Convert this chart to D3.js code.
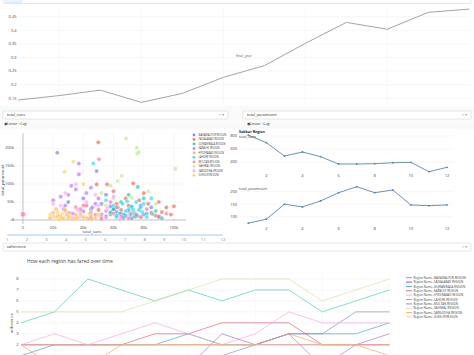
<!DOCTYPE html>
<html><head><meta charset="utf-8">
<script src="https://cdn.jsdelivr.net/npm/d3@7/dist/d3.min.js"></script>
<style>
html,body{margin:0;padding:0;background:#fff;overflow:hidden;}
svg{display:block;font-family:"Open Sans",sans-serif;}
</style></head><body>
<svg id="c" width="474" height="355"></svg>
<script>
// ---------- DATA ----------
const months = [1,2,3,4,5,6,7,8,9,10,11,12];
const topValues = [0.144,0.160,0.180,0.135,0.168,0.227,0.270,0.352,0.429,0.404,0.466,0.478];
const topTicks = [0.15,0.2,0.25,0.3,0.35,0.4,0.45];

const regions = ["BAHAWALPUR REGION","FAISALABAD REGION","GUJRANWALA REGION","KARACHI REGION","HYDERABAD REGION","LAHORE REGION","MULTAN REGION","SAHIWAL REGION","SARGODHA REGION","SUKKUR REGION"];
const scatterColors = ["#636efa","#EF553B","#00cc96","#ab63fa","#FFA15A","#19d3f3","#FF6692","#B6E880","#FF97FF","#FECB52"];
const scatterPoints = [
  [[22.7,187],[48.8,136],[40,60],[52,45],[60,30],[70,25],[78,40],[65,18],[45,20],[85,35],[55,70],[30,50],[75,10],[55,10],[62,22],[68,12],[72,5],[80,15],[90,8],[58,38]],
  [[49.9,216],[48.8,99],[55.8,99],[73,102],[60,80],[80,75],[90,50],[95,35],[68,60],[42,40],[58,15],[85,20],[100,38],[62,45],[77,55],[50,28],[65,28],[72,18],[78,8],[88,12],[92,22],[70,40],[83,45],[98,15],[66,5]],
  [[76,92],[65,50],[72,35],[58,20],[80,60],[88,25],[45,30],[62,8],[70,70],[67,15],[74,10],[82,18],[60,30],[77,28],[92,5]],
  [[37,157],[37,127],[30,70],[25,65],[35,85],[42,75],[20,55],[28,40],[50,60],[38,30],[45,90],[32,95],[33,18],[40,24],[46,35],[52,15],[27,30],[48,45]],
  [[20,20],[25,10],[30,5],[35,15],[28,25],[40,8],[22,30],[33,2],[45,12],[18,5],[38,22],[26,4],[29,14],[36,6],[43,3],[31,20],[23,12],[48,5],[52,9]],
  [[46.6,157],[60,40],[63,35],[66,45],[70,30],[72,38],[75,50],[68,25],[78,35],[80,45],[55,55],[85,60],[62,12],[74,20],[64,18],[67,8],[71,15],[73,28],[76,12],[79,22],[82,8],[86,16],[69,52],[58,22]],
  [[50.3,169],[0,16],[40,40],[55,25],[65,10],[48,15],[58,50],[35,35],[90,10],[70,5],[82,30],[45,5],[52,3],[60,18],[75,15],[95,18],[62,35]],
  [[68.2,227],[75.3,201],[75.7,185],[76.8,189],[101,142],[65.4,123],[62.7,108],[52,75],[58,95],[83,80],[55,40],[72,62],[88,45],[60,60]],
  [[35,99],[25,40],[30,20],[38,10],[42,50],[48,70],[55,5],[28,75],[60,65],[20,45],[33,5],[36,28],[45,22],[50,40],[64,2],[56,32]],
  [[33.3,162],[27.6,134],[40,100],[18,15],[22,8],[26,18],[30,12],[34,4],[38,16],[24,2],[42,6],[28,28],[20,10],[23,22],[31,8],[35,3],[44,18],[27,5],[46,2],[50,14]]
];
const scatterXTicks = [0,20,40,60,80,100];
const scatterXLabels = ["0","20k","40k","60k","80k","100k"];
const scatterYTicks = [0,50,100,150,200];
const scatterYLabels = ["0","50k","100k","150k","200k"];

const rightTopValues = [815,697,492,554,482,369,369,374,389,395,251,318];
const rightTopTicks = [400,600,800];
const rightBottomValues = [74,90,150,139,163,196,220,196,207,147,144,147];
const rightBottomTicks = [100,150,200];
const rightXTicks = [2,4,6,8,10,12];

const lineColors = ["#7d8ee0","#b0407a","#3fa9c4","#e0607e","#f3a6e6","#4cc9b4","#a073e0","#d7e3a2","#f3a25e","#f7caa2"];
const regionSeries = [
  [1,1,1,1,1,1,1,2,3,3,5,5],
  [2,2,2,2,2,2,2,2,2,2,2,2],
  [1,2,2,2,2,3,2,2,3,3,3,4],
  [2,2,2,2,3,3,4,4,4,2,2,2],
  [2,3,2,3,4,3,2,3,5,4,4,4],
  [4,5,8,7,6,7,6,7,7,5,6,7],
  [1,1,1,1,1,0,3,2,3,0,2,3],
  [5,5,5,5,6,7,8,8,8,6,7,8],
  [2,0,0,2,2,2,2,2,3,2,2,1],
  [2,2,2,2,2,2,2,2,2,2,2,2]
];
const bottomYTicks = [2,3,4,5,6,7,8];
const sliderMarks = [1,2,3,4,5,6,7,8,9,10,11,12];

// ---------- DRAW ----------
const svg = d3.select("#c");
const txt = "#444", grid = "#efefef", fs = 4;

function dropdown(x, y, w, h, label){
  svg.append("rect").attr("x",x).attr("y",y).attr("width",w).attr("height",h)
    .attr("rx",1.5).attr("fill","#fff").attr("stroke","#ccc").attr("stroke-width",0.5);
  if(label){
    svg.append("text").attr("x",x+4).attr("y",y+h/2+1.3).attr("font-size",3.8).attr("fill","#333").text(label);
    svg.append("text").attr("x",x+w-9).attr("y",y+h/2+1.3).attr("font-size",3.5).attr("fill","#999").text("× ▾");
  }
}

// top dropdown (partially visible)
dropdown(3,-6,468,9.5,null);
svg.append("rect").attr("x",5).attr("y",-2).attr("width",17).attr("height",4.5).attr("rx",1)
  .attr("fill","#ebf5ff").attr("stroke","#c2e0ff").attr("stroke-width",0.5);

// ---- top line chart ----
const tx = d3.scaleLinear().domain([1,12]).range([18.3,469.3]);
const ty = d3.scaleLinear().domain([0.15,0.45]).range([98.3,16.7]);
const gTop = svg.append("g");
gTop.selectAll(".hg").data(topTicks).join("line")
  .attr("x1",18).attr("x2",470).attr("y1",d=>ty(d)).attr("y2",d=>ty(d)).attr("stroke",grid).attr("stroke-width",0.5);
gTop.selectAll(".vg").data([2,4,6,8,10]).join("line")
  .attr("x1",d=>tx(d)).attr("x2",d=>tx(d)).attr("y1",8).attr("y2",104).attr("stroke",grid).attr("stroke-width",0.5);
gTop.selectAll(".yl").data(topTicks).join("text")
  .attr("x",16.5).attr("y",d=>ty(d)+1.3).attr("text-anchor","end").attr("font-size",fs).attr("fill",txt)
  .text(d=>d3.format("~g")(d));
gTop.append("path").datum(months)
  .attr("d",d3.line().x(d=>tx(d)).y((d,i)=>ty(topValues[i])))
  .attr("fill","none").attr("stroke","#9a9a9a").attr("stroke-width",0.9);
gTop.append("text").attr("x",236).attr("y",57).attr("font-size",3.6).attr("fill","#666").text("final_year");

// ---- controls row ----
svg.append("rect").attr("x",0).attr("y",106).attr("width",474).attr("height",22).attr("fill","#fafafa");
svg.append("line").attr("x1",0).attr("x2",474).attr("y1",128).attr("y2",128).attr("stroke","#eee").attr("stroke-width",0.5);
dropdown(3,111,225,8,"total_suns");
dropdown(243,111,228,8,"total_paramount");
svg.append("text").attr("x",4).attr("y",124.5).attr("font-size",3.6).attr("fill","#333").text("◉Linear ○Log");
svg.append("text").attr("x",247).attr("y",124.5).attr("font-size",3.6).attr("fill","#333").text("◉Linear ○Log");

// ---- scatter ----
const sx = d3.scaleLinear().domain([-8.6,108]).range([10,186]);
const sy = d3.scaleLinear().domain([-10,242]).range([223.6,133]);
const gS = svg.append("g");
gS.selectAll(".sg").data(scatterYTicks.slice(1)).join("line")
  .attr("x1",10).attr("x2",186).attr("y1",d=>sy(d)).attr("y2",d=>sy(d)).attr("stroke",grid).attr("stroke-width",0.5);
gS.selectAll(".sgx").data(scatterXTicks.slice(1)).join("line")
  .attr("x1",d=>sx(d)).attr("x2",d=>sx(d)).attr("y1",133).attr("y2",224).attr("stroke",grid).attr("stroke-width",0.5);
gS.append("line").attr("x1",sx(0)).attr("x2",sx(0)).attr("y1",133).attr("y2",224).attr("stroke","#999").attr("stroke-width",0.6);
gS.append("line").attr("x1",10).attr("x2",186).attr("y1",sy(0)).attr("y2",sy(0)).attr("stroke","#999").attr("stroke-width",0.6);
gS.selectAll(".sxl").data(scatterXTicks).join("text")
  .attr("x",d=>sx(d)).attr("y",229).attr("text-anchor","middle").attr("font-size",fs).attr("fill",txt)
  .text((d,i)=>scatterXLabels[i]);
gS.selectAll(".syl").data(scatterYTicks).join("text")
  .attr("x",14).attr("y",d=>sy(d)+1.3).attr("text-anchor","end").attr("font-size",fs).attr("fill",txt)
  .text((d,i)=>scatterYLabels[i]);
gS.append("text").attr("x",92).attr("y",233).attr("text-anchor","middle").attr("font-size",fs).attr("fill",txt).text("total_suns");
gS.append("text").attr("transform","translate(4,180) rotate(-90)").attr("text-anchor","middle").attr("font-size",fs).attr("fill",txt).text("total_paramount");
scatterPoints.forEach((pts,ri)=>{
  gS.selectAll(".p"+ri).data(pts).join("circle")
    .attr("cx",d=>sx(d[0])).attr("cy",d=>sy(d[1])).attr("r",d=>d[0]===0?2.6:2.1)
    .attr("fill",scatterColors[ri]).attr("fill-opacity",0.6).attr("stroke","#fff").attr("stroke-width",0.3);
});
// legend
regions.forEach((r,i)=>{
  const y = 135 + i*4.47;
  gS.append("circle").attr("cx",194).attr("cy",y).attr("r",1.4).attr("fill",scatterColors[i]).attr("fill-opacity",0.8);
  gS.append("text").attr("x",198.5).attr("y",y+1).attr("font-size",2.6).attr("fill",txt).text(r);
});

// ---- slider ----
const slx = d3.scaleLinear().domain([1,12]).range([7.3,223]);
svg.append("line").attr("x1",slx(1)).attr("x2",slx(12)).attr("y1",235).attr("y2",235).attr("stroke","#9cc3e6").attr("stroke-width",0.9);
svg.selectAll(".sm").data(sliderMarks).join("text")
  .attr("x",d=>slx(d)).attr("y",241.3).attr("text-anchor","middle").attr("font-size",fs).attr("fill","#777").text(d=>d);

// ---- right charts ----
const rx = d3.scaleLinear().domain([1,12]).range([248.3,447]);
function rightChart(values, ticks, yScale, labY, title, subtitle, subY){
  const g = svg.append("g");
  g.selectAll("line.g").data(ticks).join("line")
    .attr("x1",240).attr("x2",453).attr("y1",d=>yScale(d)).attr("y2",d=>yScale(d)).attr("stroke",grid).attr("stroke-width",0.5);
  g.selectAll("text.y").data(ticks).join("text")
    .attr("x",237).attr("y",d=>yScale(d)+1.3).attr("text-anchor","end").attr("font-size",fs).attr("fill",txt).text(d=>d);
  g.selectAll("text.x").data(rightXTicks).join("text")
    .attr("x",d=>rx(d)).attr("y",labY).attr("text-anchor","middle").attr("font-size",fs).attr("fill",txt).text(d=>d);
  g.append("path").datum(months).attr("d",d3.line().x(d=>rx(d)).y((d,i)=>yScale(values[i])))
    .attr("fill","none").attr("stroke","#5b84ad").attr("stroke-width",0.9);
  g.selectAll("circle").data(months).join("circle").attr("cx",d=>rx(d)).attr("cy",(d,i)=>yScale(values[i]))
    .attr("r",0.9).attr("fill","#5b84ad");
  if(title) g.append("text").attr("x",239).attr("y",132.5).attr("font-size",3.6).attr("font-weight","bold").attr("fill","#222").text(title);
  g.append("text").attr("x",239).attr("y",subY).attr("font-size",3.6).attr("fill",txt).text(subtitle);
}
const ryTop = d3.scaleLinear().domain([400,800]).range([162,136]);
const ryBot = d3.scaleLinear().domain([100,200]).range([216.7,191.7]);
rightChart(rightTopValues, rightTopTicks, ryTop, 177, "Sukkur Region", "total_suns", 137.5);
rightChart(rightBottomValues, rightBottomTicks, ryBot, 229.5, null, "total_paramount", 189.5);

// ---- bottom dropdown ----
dropdown(3,243,468,8,"adherence");

// ---- bottom line chart ----
const bx = d3.scaleLinear().domain([1,12]).range([21,389.3]);
const by = d3.scaleLinear().domain([1,8]).range([355.7,279]);
const gB = svg.append("g");
gB.append("text").attr("x",27).attr("y",262.5).attr("font-size",5).attr("fill",txt).text("How each region has fared over time");
gB.selectAll(".bg").data([1].concat(bottomYTicks)).join("line")
  .attr("x1",21).attr("x2",390).attr("y1",d=>by(d)).attr("y2",d=>by(d)).attr("stroke",grid).attr("stroke-width",0.5);
gB.selectAll(".bvg").data([2,4,6,8,10,12]).join("line")
  .attr("x1",d=>bx(d)).attr("x2",d=>bx(d)).attr("y1",272).attr("y2",360).attr("stroke","#f5f5f5").attr("stroke-width",0.5);
gB.selectAll(".byl").data(bottomYTicks).join("text")
  .attr("x",18.5).attr("y",d=>by(d)+1.3).attr("text-anchor","end").attr("font-size",fs).attr("fill",txt).text(d=>d);
gB.append("text").attr("transform","translate(12.5,323) rotate(-90)").attr("text-anchor","middle").attr("font-size",fs).attr("fill",txt).text("adherence");
regionSeries.forEach((vals,i)=>{
  gB.append("path").datum(months).attr("d",d3.line().x(d=>bx(d)).y((d,j)=>by(vals[j])))
    .attr("fill","none").attr("stroke",lineColors[i]).attr("stroke-width",0.8).attr("stroke-opacity",0.85);
});
regions.forEach((r,i)=>{
  const y = 277.7 + i*4.37;
  gB.append("line").attr("x1",406).attr("x2",412).attr("y1",y).attr("y2",y).attr("stroke",lineColors[i]).attr("stroke-width",0.9);
  gB.append("text").attr("x",413.5).attr("y",y+1.1).attr("font-size",3).attr("fill",txt).text("Region Name="+r);
});
</script>
</body></html>
